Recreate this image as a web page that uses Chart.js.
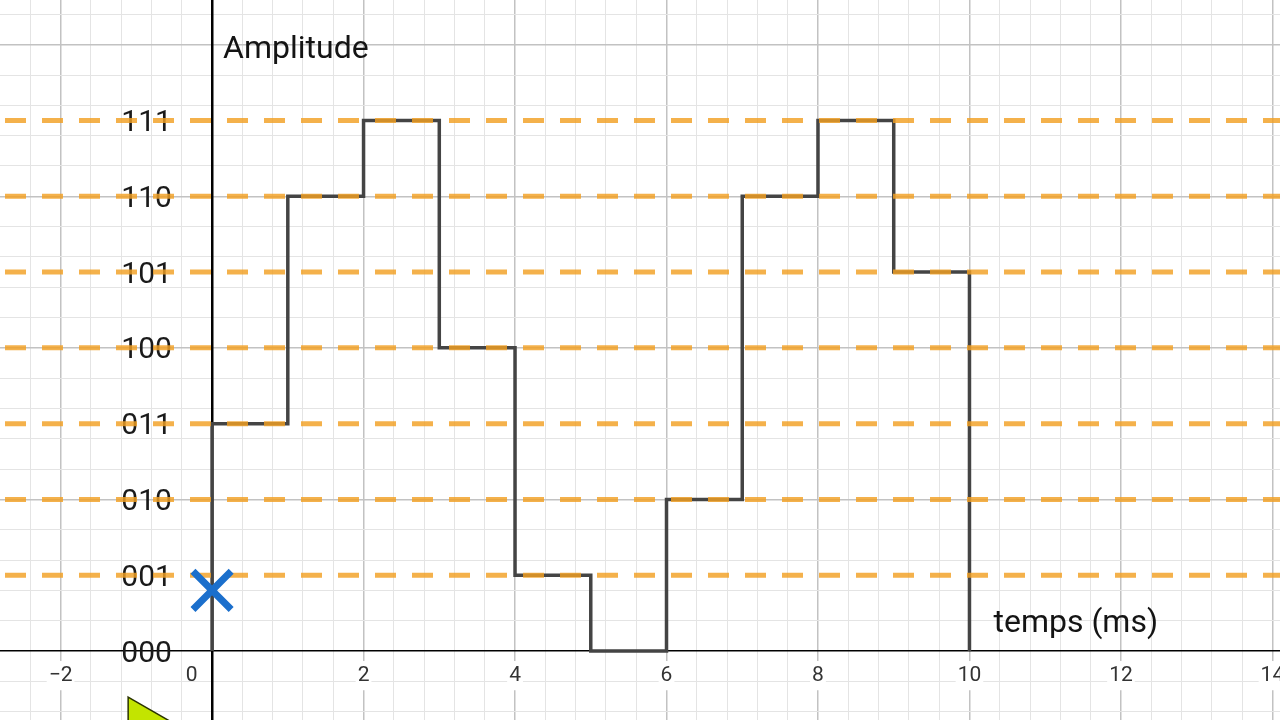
<!DOCTYPE html>
<html>
<head>
<meta charset="utf-8">
<script src="https://cdn.jsdelivr.net/npm/chart.js@4/dist/chart.umd.min.js"></script>
<style>
  html, body { margin: 0; padding: 0; background: #fff; overflow: hidden; }
  canvas { display: block; }
</style>
</head>
<body>
<canvas id="chart" width="1280" height="720"></canvas>
<script>
// signal: one sample per ms, held until the next one
const temps = [0, 0, 1, 2, 3, 4, 5, 6, 7, 8, 9, 10];
const niveaux = [0, 3, 6, 7, 4, 1, 0, 2, 6, 7, 5, 0];

// quantisation levels (binary codes) and x tick labels
const codes = ["000", "001", "010", "011", "100", "101", "110", "111"];
const xLabels = [-2, 0, 2, 4, 6, 8, 10, 12, 14];

// visible window of the graph
const xRange = [-2.8, 14.1];
const yRange = [-0.91, 8.59];

// blue cross and the mouse pointer left in the screenshot
const croix = [{ x: 0, y: 0.8 }];
const curseur = [{ x: -0.91, y: -0.95 }];

const near = (v, step) => Math.abs(v / step - Math.round(v / step)) < 1e-6;
const labelAt = v => xLabels.find(l => Math.abs(l - v) < 1e-6);

// axes sit inside the plot, so they must not eat any room
const noPadding = scale => {
    scale.paddingLeft = scale.paddingRight = scale.paddingTop = scale.paddingBottom = 0;
};

// grid: light every 0.4, darker every 2, none on the axes
const gridColor = ctx => {
    const v = ctx.tick.value;
    if (Math.abs(v) < 1e-6) return "rgba(0,0,0,0)";
    if (near(v, 2)) return "#c2c2c2";
    if (near(v, 0.4)) return "#e4e4e4";
    return "rgba(0,0,0,0)";
};
const gridWidth = ctx => (near(ctx.tick.value, 2) ? 1.5 : 1);

// dashed orange line for every level above 000
const niveauxSets = codes.slice(1).map((c, i) => ({
    label: c,
    data: [{ x: xRange[0], y: i + 1 }, { x: xRange[1], y: i + 1 }],
    borderColor: "rgba(242,160,35,0.82)",
    borderWidth: 5,
    borderDash: [21, 16],
    borderDashOffset: 32,
    pointRadius: 0,
    order: 2
}));

// text labels on the axes
const titres = {
    id: "titres",
    afterDraw(chart) {
        const { ctx, chartArea, scales: { x, y } } = chart;
        ctx.save();
        ctx.font = "32px Roboto";
        ctx.fillStyle = "#141414";
        ctx.textBaseline = "alphabetic";
        ctx.fillText("Amplitude", x.getPixelForValue(0) + 11, chartArea.top + 58);
        ctx.fillText("temps (ms)", x.getPixelForValue(10) + 24, y.getPixelForValue(0) - 19);
        ctx.restore();
    }
};

const chart = new Chart(document.getElementById("chart").getContext("2d"), {
    type: "line",
    data: {
        datasets: [
            {
                label: "croix",
                data: croix,
                showLine: false,
                pointStyle: "crossRot",
                pointRadius: 27,
                pointBorderWidth: 7,
                pointBorderColor: "#1b6fcc",
                order: 0
            },
            {
                label: "curseur",
                data: curseur,
                showLine: false,
                pointStyle: "triangle",
                pointRotation: -30,
                pointRadius: 30,
                pointBackgroundColor: "#c3e400",
                pointBorderColor: "#2a3300",
                pointBorderWidth: 1.5,
                order: 0
            },
            ...niveauxSets,
            {
                label: "signal",
                data: temps.map((t, i) => ({ x: t, y: niveaux[i] })),
                stepped: "before",
                borderColor: "#444444",
                borderWidth: 3.5,
                pointRadius: 0,
                order: 3
            }
        ]
    },
    options: {
        responsive: false,
        animation: false,
        layout: { padding: 0, autoPadding: false },
        plugins: { legend: { display: false }, tooltip: { enabled: false } },
        scales: {
            x: {
                type: "linear",
                min: xRange[0],
                max: xRange[1],
                position: { y: 0 },
                afterFit: noPadding,
                grid: { color: gridColor, lineWidth: gridWidth, drawTicks: false },
                border: { display: true, color: "#000", width: 1.6 },
                ticks: {
                    stepSize: 0.4,
                    includeBounds: false,
                    autoSkip: false,
                    maxRotation: 0,
                    padding: 12,
                    color: "#333",
                    font: { family: "Roboto", size: 21 },
                    showLabelBackdrop: ctx => {
                        const l = labelAt(ctx.tick.value);
                        return l !== undefined && l !== 0;
                    },
                    backdropColor: "#fff",
                    backdropPadding: 2,
                    callback: v => {
                        const l = labelAt(v);
                        if (l === undefined) return "";
                        if (l === 0) return "0\u2007\u2007\u2007 ";
                        return l < 0 ? "\u2212" + (-l) : String(l);
                    }
                }
            },
            y: {
                type: "linear",
                min: yRange[0],
                max: yRange[1],
                position: { x: 0 },
                afterFit: noPadding,
                grid: { color: gridColor, lineWidth: gridWidth, drawTicks: false },
                border: { display: true, color: "#000", width: 2.5 },
                ticks: { display: false, stepSize: 0.4, includeBounds: false }
            },
            yc: {
                // binary codes, right-aligned a little left of the y axis
                type: "linear",
                min: yRange[0],
                max: yRange[1],
                position: { x: -0.53 },
                z: 1,
                afterFit: noPadding,
                grid: { display: false, drawTicks: false },
                border: { display: false },
                ticks: {
                    stepSize: 1,
                    includeBounds: false,
                    autoSkip: false,
                    padding: 0,
                    labelOffset: 3,
                    color: "#1a1a1a",
                    font: { family: "Roboto", size: 30 },
                    callback: v => {
                        const c = codes[Math.round(v)];
                        return c !== undefined && near(v, 1) ? c : "";
                    }
                }
            }
        }
    },
    plugins: [titres]
});
</script>
</body>
</html>
